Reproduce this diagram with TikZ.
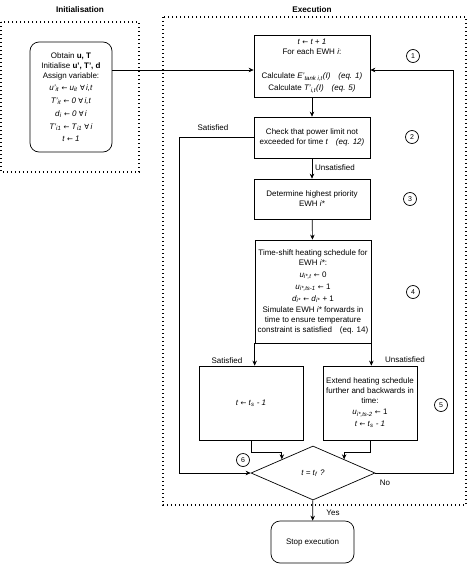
\documentclass[tikz,border=0pt]{standalone}
\usepackage{fontspec}
\setmainfont{Liberation Sans}
\setsansfont{Liberation Sans}
\newfontfamily\arrfont{DejaVu Sans}
\usetikzlibrary{arrows.meta, shapes.geometric}

\newcommand{\asgn}{{\arrfont\fontsize{7}{10}\selectfont ←}}
\newcommand{\fall}{{\arrfont\fontsize{7}{10}\selectfont ∀}}
\newcommand{\sbs}[1]{\textsubscript{\textit{#1}}}

\begin{document}
\begin{tikzpicture}
        [x=1pt, y=-1pt, font=\fontsize{8}{10}\selectfont, line width=0.7pt,
        box/.style={draw, rectangle, align=center, inner sep=1pt, minimum width=116pt},
        rbox/.style={draw, rectangle, rounded corners=9pt, align=center, inner sep=1pt},
        num/.style={draw, circle, inner sep=0, minimum size=13pt, font=\fontsize{7}{8}\selectfont},
        frame/.style={line width=1.3pt, dash pattern=on 1.3pt off 2.7pt},
        title/.style={font=\bfseries\fontsize{8.2}{10}\selectfont},
        lbl/.style={inner sep=1pt},
        arr/.style={-{Stealth[length=5pt, width=4.5pt]}}]

        \useasboundingbox (0,0) rectangle (474,565);

        % dotted frames
        \draw[frame] (1,22) rectangle (139,172);
        \draw[frame] (163,17) rectangle (466,505);
        \node[title] (tinit) at (80,10) {Initialisation};
        \node[title] (texec) at (312,10) {Execution};

        \node[rbox, minimum width=82pt, minimum height=110pt] (init) at (71,97)
          {Obtain \textbf{u, T}\\ Initialise \textbf{u', T', d}\\ Assign variable:\\[2pt]
           \textit{u'}\sbs{it} \asgn\ \textit{u}\sbs{it} \fall\,\textit{i,t}\\[3pt]
           \textit{T'}\sbs{it} \asgn\ \textit{0} \fall\,\textit{i,t}\\[3pt]
           \textit{d}\sbs{i} \asgn\ \textit{0} \fall\,\textit{i}\\[3pt]
           \textit{T'}\sbs{i1} \asgn\ \textit{T}\sbs{i1} \fall\,\textit{i}\\[2pt]
           \textit{t} \asgn\ \textit{1}};

        \node[box, minimum height=62pt] (b1) at (312,66)
          {\textit{t} \asgn\ \textit{t + 1}\\ For each EWH \textit{i}:\\[14pt]
           Calculate \textit{E'}\sbs{tank i,t}\textit{(I)}\quad\textit{(eq. 1)}\\[2pt]
           Calculate \textit{T'}\sbs{i,t}\textit{(I)}\quad\textit{(eq. 5)}};
        \node[box, minimum height=41pt] (b2) at (312,137.5)
          {Check that power limit not\\ exceeded for time \textit{t}\quad\textit{(eq. 12)}};
        \node[box, minimum height=40pt] (b3) at (312,199)
          {Determine highest priority\\ EWH \textit{i*}};
        \node[box, minimum height=103pt] (b4) at (313,291.5)
          {Time-shift heating schedule for\\ EWH \textit{i*}:\\[2pt]
           \textit{u}\sbs{i*,t} \asgn\ 0\\[2pt]
           \textit{u}\sbs{i*,ts-1} \asgn\ 1\\[2pt]
           \textit{d}\sbs{i*} \asgn\ \textit{d}\sbs{i*} + 1\\[1pt]
           Simulate EWH \textit{i*} forwards in\\ time to ensure temperature\\
           constraint is satisfied\quad(eq. 14)};
        \node[box, minimum width=104pt, minimum height=74pt] (bl) at (251,403)
          {\textit{t} \asgn\ \textit{t}\sbs{s}\textit{ - 1}};
        \node[box, minimum width=94pt, minimum height=74pt] (br) at (370,403)
          {Extend heating schedule\\ further and backwards in\\ time:\\[1pt]
           \textit{u}\sbs{i*,ts-2} \asgn\ 1\\[2pt]
           \textit{t} \asgn\ \textit{t}\sbs{s}\textit{ - 1}};
        \node[draw, diamond, minimum width=124pt, minimum height=54pt, inner sep=0] (dec) at (313,473)
          {\textit{t = t}\sbs{f}\textit{ ?}};
        \node[rbox, minimum width=83pt, minimum height=42pt] (stop) at (312.5,542) {Stop execution};

        \node[num] (n1) at (413,56) {1};
        \node[num] (n2) at (412,137) {2};
        \node[num] (n3) at (410,199) {3};
        \node[num] (n4) at (413,292) {4};
        \node[num] (n5) at (441,405) {5};
        \node[num] (n6) at (243,460) {6};

        \node[lbl] (lsat) at (213,128) {Satisfied};
        \node[lbl] (lunsat) at (335,168) {Unsatisfied};
        \node[lbl] (lsat2) at (227,361) {Satisfied};
        \node[lbl] (lunsat2) at (405,360) {Unsatisfied};
        \node[lbl] (lno) at (385,483) {No};
        \node[lbl] (lyes) at (333,513) {Yes};

        \coordinate (sat) at (179,137.5);
        \coordinate (ret) at (453,473);
        \coordinate (b1in) at ([yshift=-4pt]b1.west);
        \coordinate (b1back) at ([yshift=-4pt]b1.east);

        \draw[arr] (init.east |- b1in) -- (b1in);
        \draw[arr] (b1) -- (b2);
        \draw[arr] (b2) -- (b3);
        \draw[arr] (b3) -- (b4);
        \draw[arr] (b4.south west) -- (b4.south west |- bl.north);
        \draw[arr] (b4.south east) -- (b4.south east |- br.north);
        \draw[arr] (bl.south) -- ++(0,12) -| (dec.north west);
        \draw[arr] (br.south) -- ++(0,12) -| (dec.north east);
        \draw[arr] (b2.west) -- (sat) |- (dec.west);
        \draw[arr] (dec.east) -- (ret) |- (b1back);
        \draw[arr] (dec) -- (stop);

      \end{tikzpicture}
\end{document}
